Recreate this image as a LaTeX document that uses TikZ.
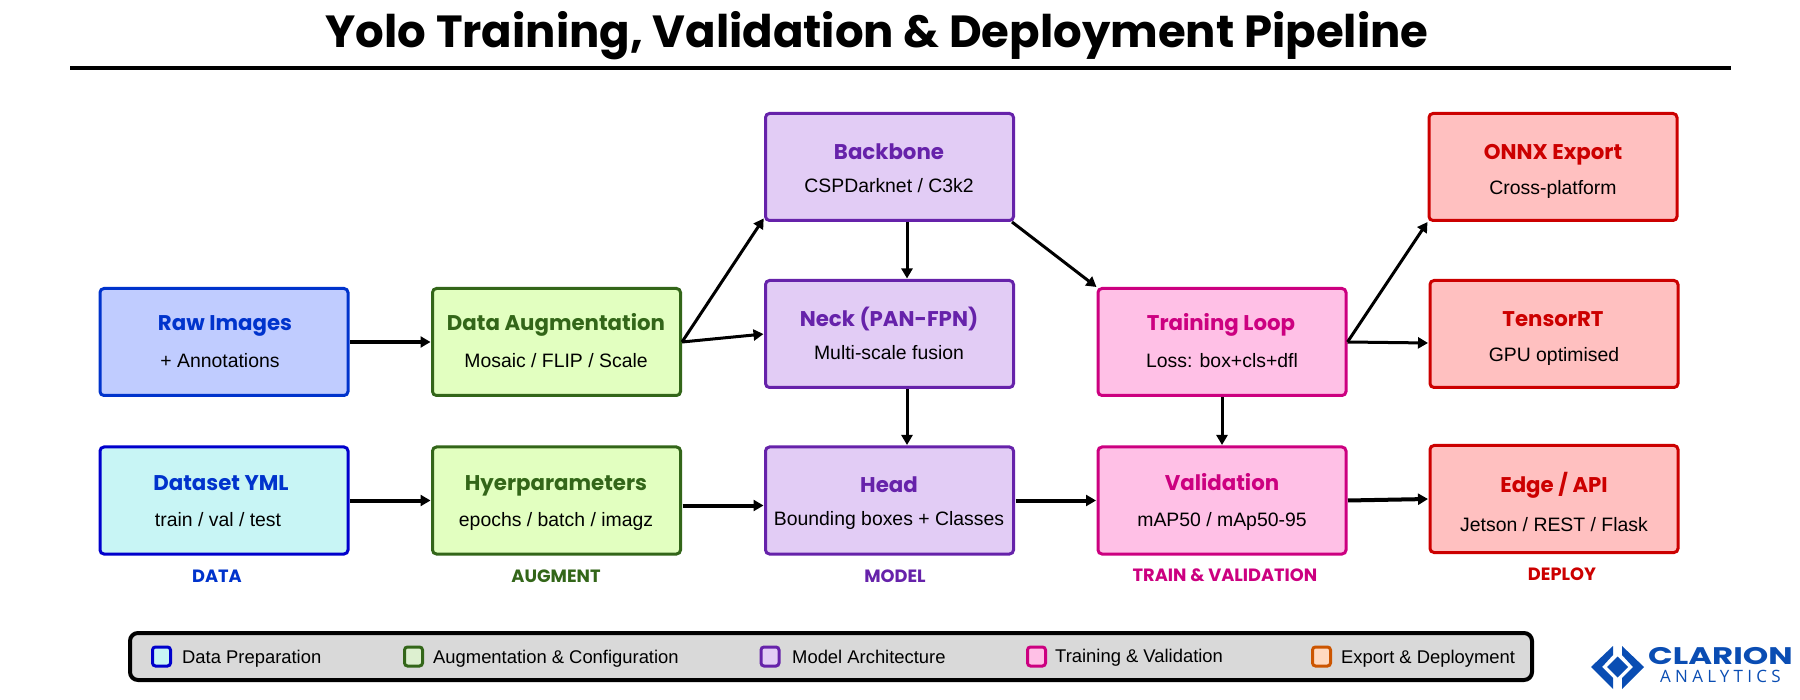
\documentclass[tikz,border=0pt]{standalone}
\usepackage{fontspec}
\setmainfont{Liberation Sans}
\newfontfamily\headfont{Poppins}
\newfontfamily\logofont[FakeStretch=1.35]{Poppins}
\newfontfamily\logosub[LetterSpace=25]{Open Sans}
\usetikzlibrary{arrows.meta}
\definecolor{dataC}{HTML}{0033CC}
\definecolor{dataD}{HTML}{0000CC}
\definecolor{rawF}{HTML}{C0CCFF}
\definecolor{yamlF}{HTML}{C8F5F5}
\definecolor{augC}{HTML}{336619}
\definecolor{augF}{HTML}{E2FFC0}
\definecolor{legF}{HTML}{DDF0D0}
\definecolor{modelC}{HTML}{6622AA}
\definecolor{modelF}{HTML}{E2CCF5}
\definecolor{trainC}{HTML}{CC0080}
\definecolor{trainF}{HTML}{FFC0E6}
\definecolor{deployC}{HTML}{CC0000}
\definecolor{deployF}{HTML}{FFC0C0}
\definecolor{exportC}{HTML}{CC5500}
\definecolor{exportF}{HTML}{FFD9C0}
\definecolor{barF}{HTML}{D9D9D9}
\definecolor{logoC}{HTML}{0A4DB3}
\tikzset{
  pipebox/.style={draw, rounded corners=4pt, line width=3pt, minimum width=248pt, minimum height=107pt, inner sep=0pt},
  boxtitle/.style={anchor=base, font=\headfont\bfseries\fontsize{21.3}{25}\selectfont},
  boxsub/.style={anchor=base, font=\fontsize{19.4}{23}\selectfont},
  seclabel/.style={anchor=base, font=\headfont\bfseries\fontsize{17.8}{21}\selectfont},
  flow/.style={-{Triangle[length=10pt,width=11pt]}, line width=3pt, shorten <=0.5pt, shorten >=0.5pt},
  thickflow/.style={flow, line width=4pt},
  legswatch/.style={draw, rounded corners=3pt, line width=3pt, minimum width=18pt, minimum height=19pt, inner sep=0pt},
  legtext/.style={anchor=base west, inner sep=0pt, font=\fontsize{18.4}{22}\selectfont},
}
\begin{document}
\begin{tikzpicture}[x=1pt,y=-1pt]
  \useasboundingbox (0,0) rectangle (1800,700);
  % title and rule
  \node[anchor=base, font=\headfont\bfseries\fontsize{45}{50}\selectfont] (title) at (877,48) {Yolo Training, Validation \& Deployment Pipeline};
  \coordinate (ruleL) at (70,68);
  \coordinate (ruleR) at (1731,68);
  \draw[line width=4pt] (ruleL) -- (ruleR);
  % boxes
  \foreach \name/\x/\y/\fillc/\drawc/\textc/\tx/\ty/\sx/\sy/\head/\sub in {
      raw/224/342/rawF/dataC/dataC/225/331/220/368/Raw Images/+ Annotations,
      yaml/224/500.5/yamlF/dataD/dataC/221/490/218/526/Dataset YML/{train / val / test},
      aug/556.5/342/augF/augC/augC/556/331/556/368/Data Augmentation/{Mosaic / FLIP / Scale},
      hyper/556.5/500.5/augF/augC/augC/556/490/556/526/Hyerparameters/{epochs / batch / imagz},
      backbone/889.5/167/modelF/modelC/modelC/889/160/889/193/Backbone/{CSPDarknet / C3k2},
      neck/889.5/334/modelF/modelC/modelC/889/327/889/360/Neck (PAN-FPN)/Multi-scale fusion,
      head/889.5/500.5/modelF/modelC/modelC/889/493/889/525/Head/Bounding boxes + Classes,
      training/1222/342/trainF/trainC/trainC/1221/331/1222/368/Training Loop/Loss: box+cls+dfl,
      valid/1222/500.5/trainF/trainC/trainC/1222/490/1222/526/Validation/{mAP50 / mAp50-95},
      onnx/1553/167/deployF/deployC/deployC/1553/160/1553/195/ONNX Export/Cross-platform,
      tensor/1554/334/deployF/deployC/deployC/1553/327/1554/362/TensorRT/GPU optimised,
      edge/1554/499/deployF/deployC/deployC/1554/493/1554/531/{Edge / API}/{Jetson / REST / Flask}%
    } {
      \node[pipebox, fill=\fillc, draw=\drawc] (\name) at (\x,\y) {};
      \node[boxtitle, text=\textc] (\name T) at (\tx,\ty) {\head};
      \node[boxsub] (\name S) at (\sx,\sy) {\sub};
    }
  % section labels
  \foreach \name/\x/\y/\textc/\label in {
      secdata/217/582/dataC/DATA,
      secaug/556/582/augC/AUGMENT,
      secmodel/895/582/modelC/MODEL,
      sectrain/1225/581/trainC/TRAIN \& VALIDATION,
      secdeploy/1562/580/deployC/DEPLOY%
    } {
      \node[seclabel, text=\textc] (\name) at (\x,\y) {\label};
    }
  % connectors
  \draw[thickflow] (raw) -- (aug);
  \draw[thickflow] (yaml) -- (hyper);
  \draw[thickflow] ([yshift=-5pt]hyper.east) -- ([yshift=-5pt]head.west);
  \draw[thickflow] (head) -- (valid);
  \draw[thickflow] (valid.east) -- (edge.west);
  \draw[flow, shorten <=0pt] (aug.east) -- ([yshift=4pt]backbone.south west);
  \draw[flow, shorten <=0pt] (aug.east) -- (neck.west);
  \draw[flow] ([xshift=17.5pt]backbone.south) -- ([xshift=17.5pt]neck.north);
  \draw[flow] ([xshift=17.5pt]neck.south) -- ([xshift=17.5pt]head.north);
  \draw[flow, shorten <=0pt, shorten >=0pt] ([xshift=-3pt]backbone.south east) -- (training.north west);
  \draw[flow] (training) -- (valid);
  \draw[flow, shorten <=0pt, shorten >=0pt] (training.east) -- (onnx.south west);
  \draw[flow, shorten <=0pt] (training.east) -- ([yshift=-9pt]tensor.west);
  % legend
  \node[draw, fill=barF, rounded corners=8pt, line width=4pt, minimum width=1402pt, minimum height=47pt, inner sep=0pt] (legend) at (831,656.5) {};
  \foreach \name/\x/\tx/\y/\fillc/\drawc/\label in {
      legdata/161.5/182/663/yamlF/dataD/Data Preparation,
      legaug/413.5/433/663/legF/augC/Augmentation \& Configuration,
      legmodel/770/792/663/modelF/modelC/Model Architecture,
      legtrain/1036.5/1055/662/trainF/trainC/Training \& Validation,
      legexport/1321.5/1341/663/exportF/exportC/Export \& Deployment%
    } {
      \node[legswatch, fill=\fillc, draw=\drawc] (\name) at (\x,656.5) {};
      \node[legtext] (\name T) at (\tx,\y) {\label};
    }
  % logo
  \fill[logoC] (1591,667) -- (1613,646) -- (1613,655) -- (1602,667) -- (1613,678) -- (1613,689) -- cycle;
  \fill[logoC] (1644,667) -- (1622,646) -- (1622,655) -- (1633,667) -- (1622,678) -- (1622,689) -- cycle;
  \fill[logoC] (1617.5,656.5) -- (1628,667) -- (1617.5,677.5) -- (1607,667) -- cycle;
  \node[anchor=base west, inner sep=0pt, text=logoC, font=\logofont\bfseries\fontsize{24}{28}\selectfont] (logoA) at (1648,664) {CLARION};
  \node[anchor=base west, inner sep=0pt, text=logoC, font=\logosub\fontsize{17}{20}\selectfont] (logoB) at (1660,682) {ANALYTICS};
\end{tikzpicture}
\end{document}
